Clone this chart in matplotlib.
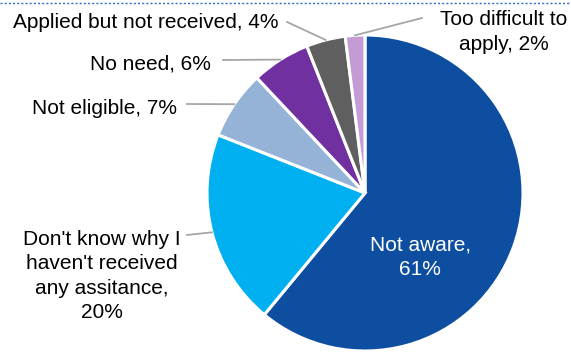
import matplotlib.pyplot as plt
import numpy as np
from matplotlib.lines import Line2D

plt.rcParams['font.family'] = ['Liberation Sans', 'DejaVu Sans']

labels = ["Not aware", "Don't know why I\nhaven't received\nany assitance",
          "Not eligible", "No need", "Applied but not received",
          "Too difficult to\napply"]
values = [61, 20, 7, 6, 4, 2]
colors = ['#0d4ea0', '#00b0f0', '#95b3d7', '#7030a0', '#5f5f5f', '#c49bd4']

# label centre and leader line start (pixels from top-left)
label_pos = [(420, 257), (102, 276), (105, 108), (150, 64), (146, 22), (504, 32)]
line_start = [None, (187, 235), (187, 104), (223, 60), (287, 22), (422, 18)]

W, H = 571, 352
cx, cy, R = 365, 193, 158

fig = plt.figure(figsize=(W / 100, H / 100), dpi=100)
ax = fig.add_axes([0, 0, 1, 1])

wedges, _ = ax.pie(values, colors=colors, startangle=90, counterclock=False,
                   center=(cx, H - cy), radius=R,
                   wedgeprops=dict(edgecolor='white', linewidth=2.2))
ax.set_xlim(0, W)
ax.set_ylim(0, H)
ax.set_aspect('equal')
ax.axis('off')

total = sum(values)
cum = 0
for i, (lab, v) in enumerate(zip(labels, values)):
    mid = 90 - 360 * (cum + v / 2) / total
    cum += v
    lx, ly = label_pos[i]
    if i == 0:
        ax.text(lx, H - ly, f"{lab},\n{v}%", color='white', fontsize=15,
                ha='center', va='center', linespacing=1.34)
        continue
    text = f"{lab},\n{v}%" if i == 1 else f"{lab}, {v}%"
    ax.text(lx, H - ly, text, color='black', fontsize=15, ha='center',
            va='center', linespacing=1.34)
    ex = cx + R * np.cos(np.radians(mid))
    ey = H - cy + R * np.sin(np.radians(mid))
    sx, sy = line_start[i]
    ax.plot([sx, ex], [H - sy, ey], color='#a6a6a6', lw=1.3)

fig.add_artist(Line2D([0, 1], [1 - 3 / H, 1 - 3 / H], transform=fig.transFigure,
                      color='#2e6dc4', lw=1, linestyle=(0, (1.5, 1.5))))

fig.savefig('out.png', dpi=100)
